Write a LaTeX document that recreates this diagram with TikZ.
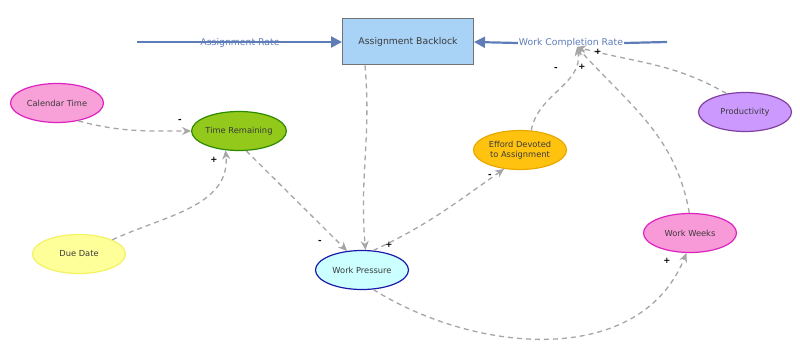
\documentclass[tikz,border=0pt]{standalone}
\usepackage{fontspec}
\setmainfont{DejaVu Sans}
\usetikzlibrary{shapes.geometric,arrows.meta}
\definecolor{flowc}{HTML}{5E7DB8}
\definecolor{linkc}{HTML}{A6A6A6}
\definecolor{txtc}{HTML}{3A3A3A}
\definecolor{stockc}{HTML}{A8D3F7}
\definecolor{ctf}{HTML}{F8A0D8}
\definecolor{ctd}{HTML}{DD22C0}
\definecolor{trf}{HTML}{92C91A}
\definecolor{trd}{HTML}{2E8B00}
\definecolor{ddf}{HTML}{FFFF99}
\definecolor{ddd}{HTML}{F2F266}
\definecolor{wpf}{HTML}{CCFFFF}
\definecolor{wpd}{HTML}{1A1AAA}
\definecolor{eff}{HTML}{FFC30F}
\definecolor{efd}{HTML}{E8A800}
\definecolor{prf}{HTML}{CC99FF}
\definecolor{prd}{HTML}{8040A0}
\definecolor{wwf}{HTML}{F99AD8}
\definecolor{wwd}{HTML}{DD22C0}
\tikzset{
  var/.style={ellipse,draw,line width=1.2pt,minimum width=93pt,minimum height=39pt,inner sep=0pt,
    font=\fontsize{8.3}{10}\selectfont,text=txtc,align=center},
  stock/.style={rectangle,draw=black!55,fill=stockc,line width=1pt,minimum width=131pt,minimum height=46pt,
    font=\fontsize{9.3}{11}\selectfont,text=txtc},
  flow/.style={draw=flowc,line width=2.2pt,-{Triangle[length=11pt,width=11pt]}},
  flowlbl/.style={font=\fontsize{9.3}{11}\selectfont,text=flowc,inner sep=1pt},
  link/.style={draw=linkc,line width=1.3pt,dash pattern=on 5pt off 4pt,-{Stealth[length=9pt,width=8pt,fill=linkc]}},
  sgn/.style={font=\fontsize{8.5}{9}\selectfont\bfseries,text=black,inner sep=0pt}
}
\begin{document}
\begin{tikzpicture}[x=1pt,y=-1pt]
\useasboundingbox[fill=white] (0,0) rectangle (800,350);
% stock
\node[stock] (ab) at (408,42) {Assignment Backlock};
% flows
\coordinate (arL) at (137,42);
\coordinate (wcR) at (667,42);
\draw[flow] (arL) -- (ab.west);
\node[flowlbl] (arlbl) at (240,43) {Assignment Rate};
\node[flowlbl,fill=white] (wcrlbl) at (571,43) {Work Completion Rate};
\draw[draw=flowc,line width=2.2pt] (wcR) -- (wcrlbl.east);
\draw[flow] (wcrlbl.west) -- (ab.east);
\coordinate (wcr) at (577,47);
% variables
\node[var,fill=ctf,draw=ctd] (ct) at (57,103) {Calendar Time};
\node[var,fill=trf,draw=trd] (tr) at (239,131) {Time Remaining};
\node[var,fill=ddf,draw=ddd] (dd) at (79,254) {Due Date};
\node[var,fill=wpf,draw=wpd] (wp) at (362,270) {Work Pressure};
\node[var,fill=eff,draw=efd] (ef) at (520,150) {Efford Devoted\\to Assignment};
\node[var,fill=prf,draw=prd] (pr) at (745,112) {Productivity};
\node[var,fill=wwf,draw=wwd] (ww) at (690,233) {Work Weeks};
% links
\draw[link] (ct.-40) to[out=-15,in=180] (tr.west);
\draw[link] (dd.north east) to[out=25,in=-85] (tr.-125);
\draw[link] (tr.-70) -- (wp.128);
\draw[link] (ab.south west) ++(23,0) coordinate (abs) to[out=-85,in=95] (wp.80);
\draw[link] (wp.60) to[out=25,in=215] (ef.-130);
\draw[link] (ef.60) to[out=80,in=-80] (wcr);
\draw[link] (ww.92) to[out=100,in=-48] (wcr);
\draw[link] (pr.135) to[out=150,in=-15] (wcr);
\draw[link] (wp.-60) to[out=-32,in=-112] (ww.-100);
% signs
\node[sgn] (s1) at (180,121) {-};
\node[sgn] (s2) at (214,160) {+};
\node[sgn] (s3) at (320,242) {-};
\node[sgn] (s4) at (389,245) {+};
\node[sgn] (s5) at (490,176) {-};
\node[sgn] (s6) at (556,69) {-};
\node[sgn] (s7) at (582,67) {+};
\node[sgn] (s8) at (598,52) {+};
\node[sgn] (s9) at (667,261) {+};
\end{tikzpicture}
\end{document}
